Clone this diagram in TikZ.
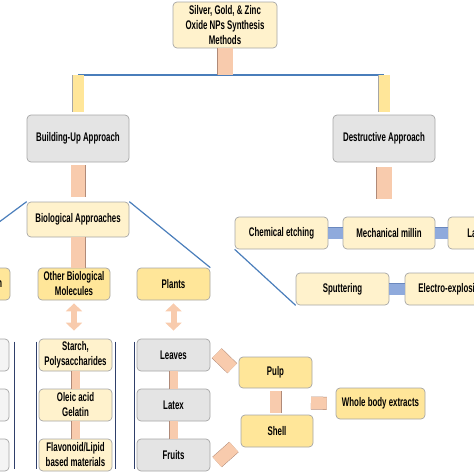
\documentclass[tikz,border=0pt]{standalone}
\usepackage{fontspec}
\setmainfont{Liberation Sans}[FakeStretch=0.63]
\usepackage{xcolor}
\definecolor{paleFill}{HTML}{FFF2CC}
\definecolor{goldFill}{HTML}{FFE699}
\definecolor{stoneFill}{HTML}{E4E4E4}
\definecolor{ghostFill}{HTML}{F4F4F4}
\definecolor{boxEdge}{HTML}{A6A6A6}
\definecolor{salmonFill}{HTML}{F8CBAD}
\definecolor{salmonEdge}{HTML}{B08A78}
\definecolor{barBlue}{HTML}{8FAADC}
\definecolor{barBlueEdge}{HTML}{6A88BE}
\definecolor{treeBlue}{HTML}{4A7EBB}
\definecolor{rulerNavy}{HTML}{2F3F6A}
\usetikzlibrary{arrows.meta}

\tikzset{
  card/.style={draw=boxEdge, line width=0.7pt, rounded corners=4pt, align=center,
    inner sep=1pt, minimum height=32pt, font=\bfseries\fontsize{12.5}{15}\selectfont},
  pale/.style={card, fill=paleFill},
  gold/.style={card, fill=goldFill},
  stone/.style={card, fill=stoneFill},
  ghost/.style={card, fill=ghostFill},
  scroll/.style={draw=salmonEdge, line width=0.5pt, double=salmonFill, double distance=#1},
  scroll/.default=14pt,
  yscroll/.style={draw=boxEdge, line width=0.5pt, double=goldFill, double distance=#1},
  yscroll/.default=11pt,
  bluebar/.style={draw=barBlueEdge, line width=0.5pt, double=barBlue, double distance=11pt},
  tree/.style={draw=treeBlue, line width=1.2pt},
  ruler/.style={draw=rulerNavy, line width=1.6pt},
  twoway/.style={draw=salmonFill, line width=6pt,
    {Triangle[width=16pt,length=8pt]}-{Triangle[width=16pt,length=8pt]}}
}

\begin{document}
\begin{tikzpicture}[x=1pt,y=-1pt]
  \useasboundingbox (0,0) rectangle (474,474);
  \clip (0,0) rectangle (474,474);

  \node[pale, minimum width=104pt, minimum height=46pt] (top) at (225,25)
    {Silver, Gold, \& Zinc\\Oxide NPs Synthesis\\Methods};
  \node[stone, minimum width=102pt, minimum height=47pt] (bu) at (78,138.5) {Building-Up Approach};
  \node[stone, minimum width=102pt, minimum height=47pt] (de) at (384,138.5) {Destructive Approach};
  \node[pale, minimum width=102pt, minimum height=35pt] (bio) at (78,219.5) {Biological Approaches};

  \node[gold, minimum width=72pt] (micro) at (-26,284) {Microorganism};
  \node[gold, minimum width=72pt] (other) at (74,284) {Other Biological\\Molecules};
  \node[gold, minimum width=73pt] (plants) at (173.5,284) {Plants};

  \node[ghost, minimum width=73pt] (mc1) at (-27.5,355) {};
  \node[ghost, minimum width=73pt] (mc2) at (-27.5,405) {};
  \node[ghost, minimum width=73pt] (mc3) at (-27.5,455) {};

  \node[pale, minimum width=73pt] (starch) at (75.5,355) {Starch,\\Polysaccharides};
  \node[pale, minimum width=73pt] (oleic) at (75.5,405) {Oleic acid\\Gelatin};
  \node[pale, minimum width=73pt] (flav) at (75.5,455) {Flavonoid/Lipid\\based materials};

  \node[stone, minimum width=73pt] (leaves) at (173.5,355) {Leaves};
  \node[stone, minimum width=73pt] (latex) at (173.5,405) {Latex};
  \node[stone, minimum width=73pt] (fruits) at (173.5,455) {Fruits};

  \node[gold, minimum width=73pt, minimum height=31pt] (pulp) at (275.5,372.5) {Pulp};
  \node[gold, minimum width=72pt] (shell) at (277,431) {Shell};
  \node[gold, minimum width=89pt, minimum height=31pt] (whole) at (380.5,403.5) {Whole body extracts};

  \node[pale, minimum width=93pt] (chem) at (281.5,233) {Chemical etching};
  \node[pale, minimum width=92pt] (mech) at (389,233) {Mechanical millin};
  \node[pale, minimum width=92pt] (laser) at (494,233) {Laser ablation};
  \node[pale, minimum width=93pt] (sput) at (342.5,289) {Sputtering};
  \node[pale, minimum width=93pt] (electro) at (451.5,289) {Electro-explosion};

  \coordinate (split) at (225,75);
  \coordinate (pair) at (311,403);

  \draw[tree] (bu.north |- split) -- (de.north |- split);
  \draw[tree] (bio.north west) -- (micro.north west);
  \draw[tree] (bio.north east) -- (plants.north east);
  \draw[tree] (chem.south west) -- (sput.south west);

  \draw[scroll=15pt] (top.south) -- (split);
  \draw[yscroll, shorten >=3pt] (bu.north |- split) -- (bu.north);
  \draw[yscroll, shorten >=3pt] (de.north |- split) -- (de.north);
  \draw[scroll, shorten <=3pt, shorten >=5pt] (bu.south) -- (bio.north);
  \draw[scroll] (bio.south) -- (bio.south |- other.north);
  \draw[scroll=15pt, shorten <=5pt, shorten >=18pt] (de.south) -- (de.south |- chem.north);

  \draw[twoway, shorten <=3pt, shorten >=8pt] (other.south) -- (other.south |- starch.north);
  \draw[twoway, shorten <=3pt, shorten >=8pt] (plants.south) -- (leaves.north);

  \draw[scroll=8pt] (starch.south) -- (oleic.north);
  \draw[scroll=8pt] (oleic.south) -- (flav.north);
  \draw[scroll=8pt] (leaves.south) -- (latex.north);
  \draw[scroll=8pt] (latex.south) -- (fruits.north);

  \draw[scroll=13pt, shorten <=9pt, shorten >=9pt] ([yshift=8pt]leaves.east) -- ([yshift=-2pt]pulp.west);
  \draw[scroll=13pt, shorten <=9pt, shorten >=9pt] ([yshift=-13pt]fruits.east) -- ([yshift=-10pt]shell.west);
  \draw[scroll=11pt, shorten <=3pt, shorten >=2pt] (pulp.south) -- (pulp.south |- shell.north);
  \draw[scroll=12pt, shorten >=9pt] (pair) -- (whole.west);

  \draw[bluebar] (chem.east) -- (mech.west);
  \draw[bluebar] (mech.east) -- (laser.west);
  \draw[bluebar] (sput.east) -- (electro.west);

  \draw[ruler] ([xshift=5pt,yshift=-3pt]mc1.north east) -- ([xshift=5pt,yshift=2pt]mc3.south east);
  \draw[ruler] ([xshift=-2pt,yshift=-3pt]starch.north west) -- ([xshift=-2pt,yshift=2pt]flav.south west);
  \draw[ruler] ([xshift=3pt,yshift=-3pt]starch.north east) -- ([xshift=3pt,yshift=2pt]flav.south east);
  \draw[ruler] ([xshift=-2pt,yshift=-3pt]leaves.north west) -- ([xshift=-2pt,yshift=2pt]fruits.south west);
\end{tikzpicture}
\end{document}
